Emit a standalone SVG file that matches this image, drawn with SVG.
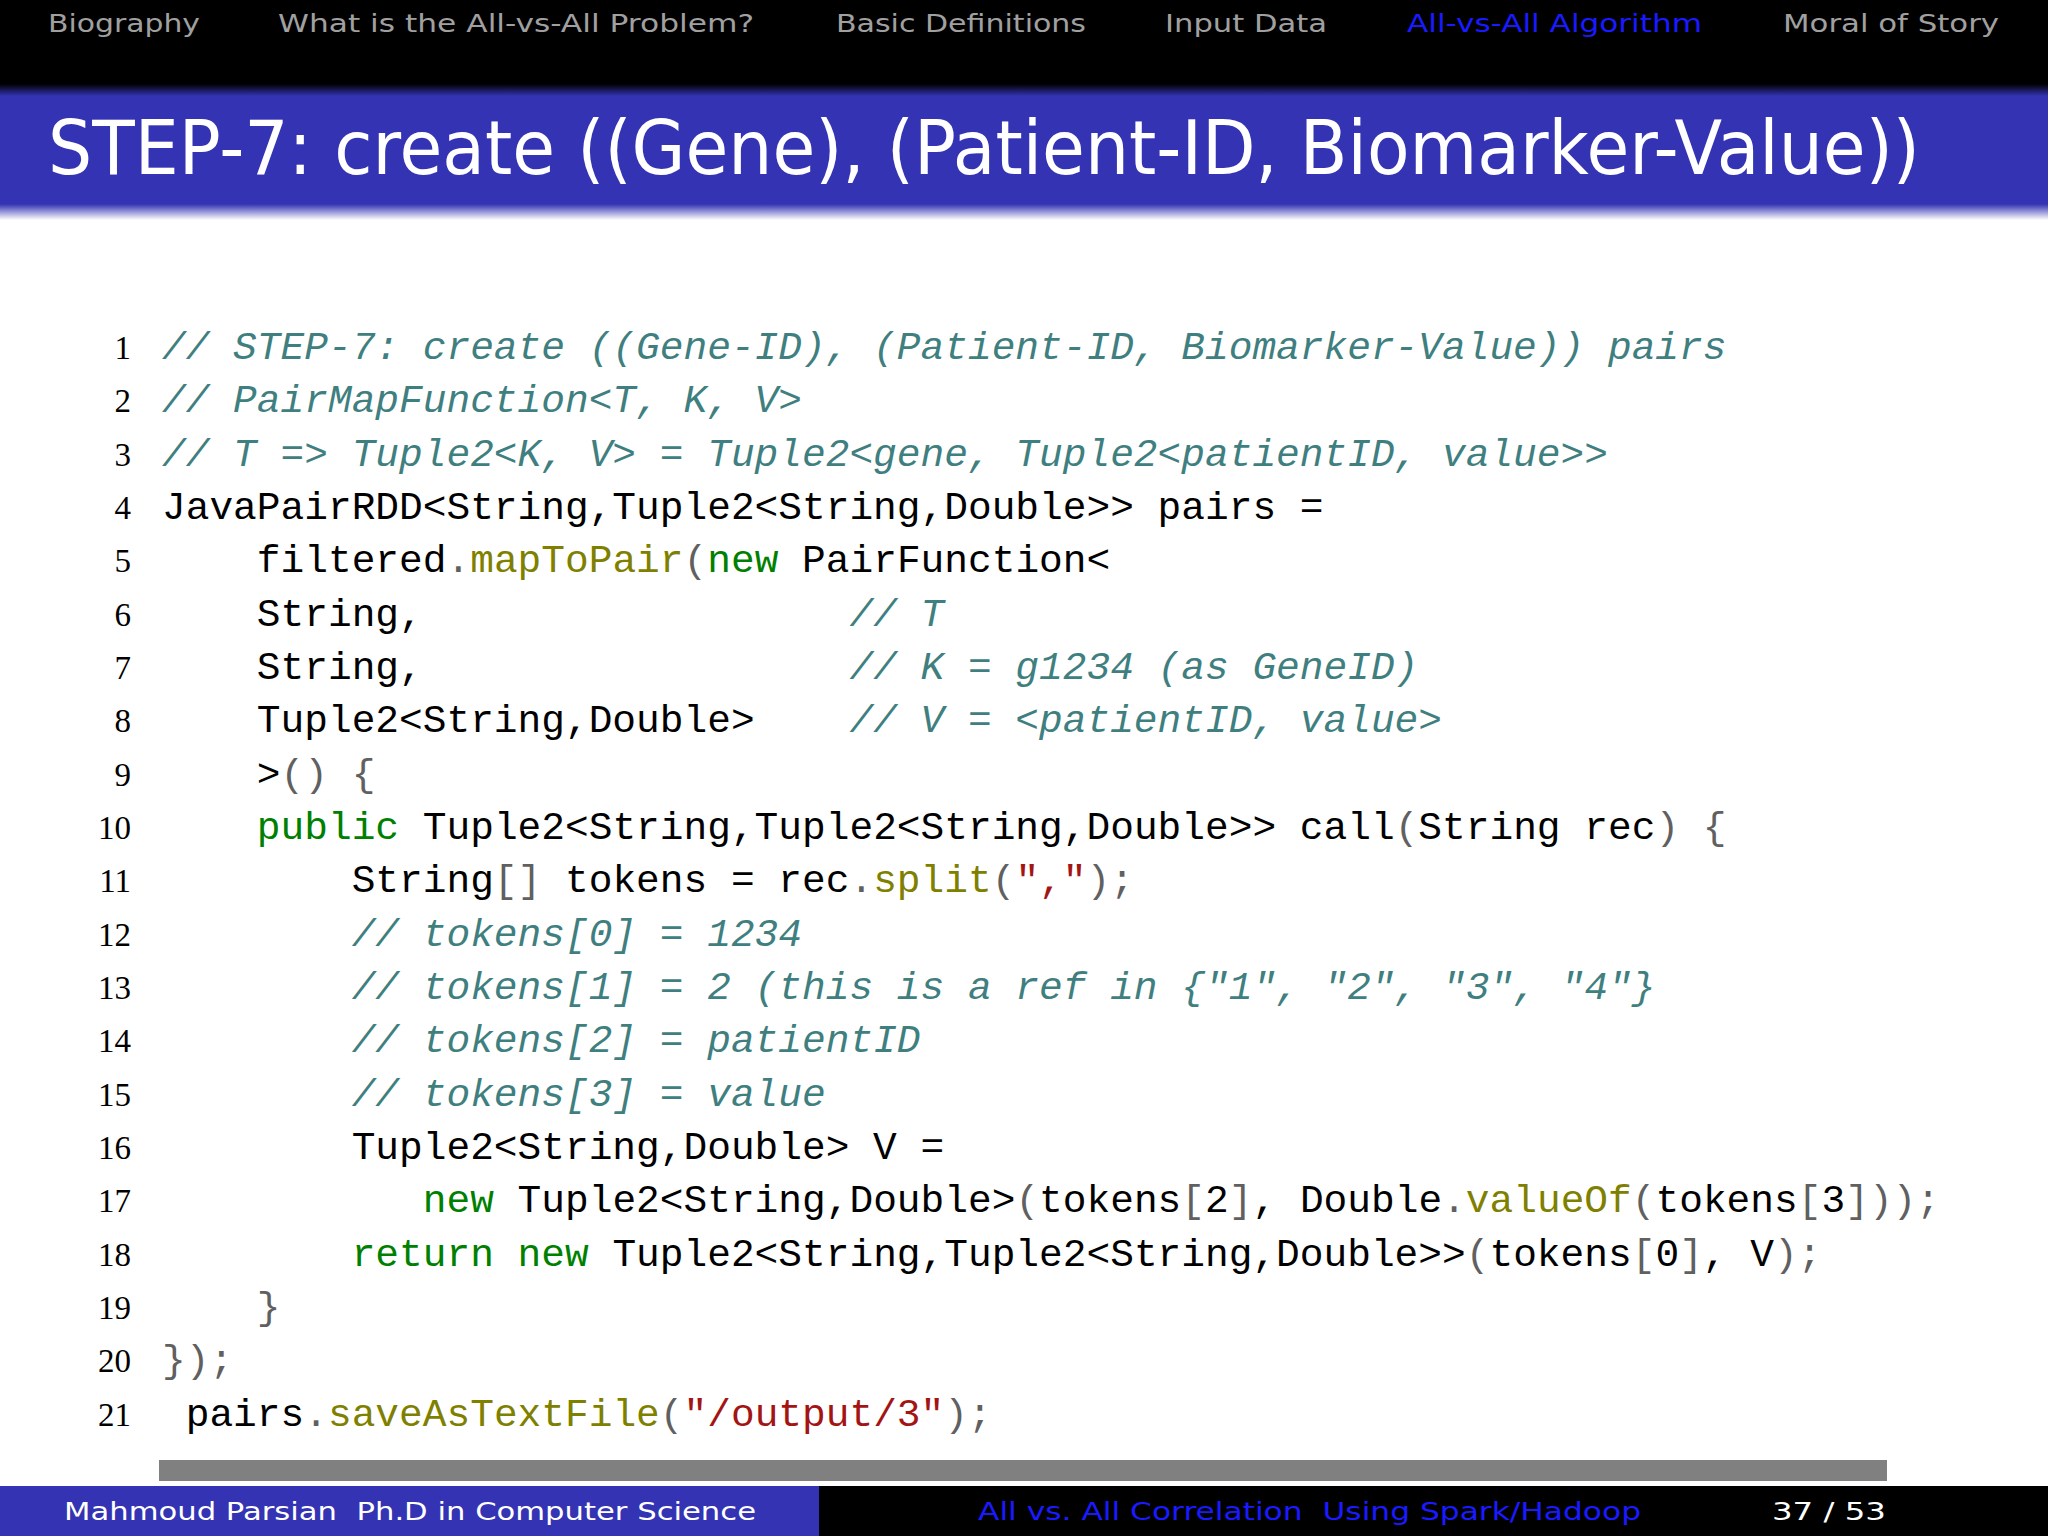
<svg xmlns="http://www.w3.org/2000/svg" width="2048" height="1536" viewBox="0 0 2048 1536">
<defs>
<linearGradient id="sh1" x1="0" y1="0" x2="0" y2="1"><stop offset="0" stop-color="#000"/><stop offset="1" stop-color="#3333b3"/></linearGradient>
<linearGradient id="sh2" x1="0" y1="0" x2="0" y2="1"><stop offset="0" stop-color="#3333b3"/><stop offset="1" stop-color="#fff"/></linearGradient>
<style>
.nav{font-family:"DejaVu Sans",sans-serif;font-size:24px;fill:#a0a0a0}
.cur{fill:#1a1aff}
.title{font-family:"DejaVu Sans",sans-serif;font-size:74px;fill:#fff}
.ln{font-family:"Liberation Serif",serif;font-size:33px;fill:#000;text-anchor:end}
.code text{font-family:"Liberation Mono",monospace;font-size:39.5px;fill:#000;white-space:pre}
.c{font-style:italic;fill:#3f7f7f}
.k{fill:#008000}
.m{fill:#808000}
.s{fill:#a31515}
.p{fill:#606060}
.foot{font-family:"DejaVu Sans",sans-serif;font-size:25px;fill:#fff;white-space:pre}
</style>
</defs>
<rect width="2048" height="1536" fill="#fff"/>
<g id="header">
<rect x="0" y="0" width="2048" height="84" fill="#000"/>
<rect x="0" y="84" width="2048" height="12" fill="url(#sh1)"/>
<rect x="0" y="96" width="2048" height="108" fill="#3333b3"/>
<rect x="0" y="204" width="2048" height="16" fill="url(#sh2)"/>
<text class="nav" x="48" y="32" textLength="152" lengthAdjust="spacingAndGlyphs">Biography</text>
<text class="nav" x="278" y="32" textLength="476" lengthAdjust="spacingAndGlyphs">What is the All-vs-All Problem?</text>
<text class="nav" x="836" y="32" textLength="250" lengthAdjust="spacingAndGlyphs">Basic Definitions</text>
<text class="nav" x="1165" y="32" textLength="162" lengthAdjust="spacingAndGlyphs">Input Data</text>
<text class="nav cur" x="1407" y="32" textLength="295" lengthAdjust="spacingAndGlyphs">All-vs-All Algorithm</text>
<text class="nav" x="1783" y="32" textLength="216" lengthAdjust="spacingAndGlyphs">Moral of Story</text>
<text class="title" x="48" y="174" textLength="1872" lengthAdjust="spacingAndGlyphs">STEP-7: create ((Gene), (Patient-ID, Biomarker-Value))</text>
</g>
<g id="linenumbers">
<text class="ln" x="131" y="359">1</text>
<text class="ln" x="131" y="412">2</text>
<text class="ln" x="131" y="466">3</text>
<text class="ln" x="131" y="519">4</text>
<text class="ln" x="131" y="572">5</text>
<text class="ln" x="131" y="626">6</text>
<text class="ln" x="131" y="679">7</text>
<text class="ln" x="131" y="732">8</text>
<text class="ln" x="131" y="786">9</text>
<text class="ln" x="131" y="839">10</text>
<text class="ln" x="131" y="892">11</text>
<text class="ln" x="131" y="946">12</text>
<text class="ln" x="131" y="999">13</text>
<text class="ln" x="131" y="1052">14</text>
<text class="ln" x="131" y="1106">15</text>
<text class="ln" x="131" y="1159">16</text>
<text class="ln" x="131" y="1212">17</text>
<text class="ln" x="131" y="1266">18</text>
<text class="ln" x="131" y="1319">19</text>
<text class="ln" x="131" y="1372">20</text>
<text class="ln" x="131" y="1426">21</text>
</g>
<g id="code" class="code">
<text xml:space="preserve" x="162" y="359"><tspan class="c">// STEP-7: create ((Gene-ID), (Patient-ID, Biomarker-Value)) pairs</tspan></text>
<text xml:space="preserve" x="162" y="412"><tspan class="c">// PairMapFunction&lt;T, K, V&gt;</tspan></text>
<text xml:space="preserve" x="162" y="466"><tspan class="c">// T =&gt; Tuple2&lt;K, V&gt; = Tuple2&lt;gene, Tuple2&lt;patientID, value&gt;&gt;</tspan></text>
<text xml:space="preserve" x="162" y="519">JavaPairRDD&lt;String,Tuple2&lt;String,Double&gt;&gt; pairs =</text>
<text xml:space="preserve" x="162" y="572">    filtered<tspan class="p">.</tspan><tspan class="m">mapToPair</tspan><tspan class="p">(</tspan><tspan class="k">new</tspan> PairFunction&lt;</text>
<text xml:space="preserve" x="162" y="626">    String,                  <tspan class="c">// T</tspan></text>
<text xml:space="preserve" x="162" y="679">    String,                  <tspan class="c">// K = g1234 (as GeneID)</tspan></text>
<text xml:space="preserve" x="162" y="732">    Tuple2&lt;String,Double&gt;    <tspan class="c">// V = &lt;patientID, value&gt;</tspan></text>
<text xml:space="preserve" x="162" y="786">    &gt;<tspan class="p">() {</tspan></text>
<text xml:space="preserve" x="162" y="839">    <tspan class="k">public</tspan> Tuple2&lt;String,Tuple2&lt;String,Double&gt;&gt; call<tspan class="p">(</tspan>String rec<tspan class="p">) {</tspan></text>
<text xml:space="preserve" x="162" y="892">        String<tspan class="p">[]</tspan> tokens = rec<tspan class="p">.</tspan><tspan class="m">split</tspan><tspan class="p">(</tspan><tspan class="s">","</tspan><tspan class="p">);</tspan></text>
<text xml:space="preserve" x="162" y="946">        <tspan class="c">// tokens[0] = 1234</tspan></text>
<text xml:space="preserve" x="162" y="999">        <tspan class="c">// tokens[1] = 2 (this is a ref in {"1", "2", "3", "4"}</tspan></text>
<text xml:space="preserve" x="162" y="1052">        <tspan class="c">// tokens[2] = patientID</tspan></text>
<text xml:space="preserve" x="162" y="1106">        <tspan class="c">// tokens[3] = value</tspan></text>
<text xml:space="preserve" x="162" y="1159">        Tuple2&lt;String,Double&gt; V =</text>
<text xml:space="preserve" x="162" y="1212">           <tspan class="k">new</tspan> Tuple2&lt;String,Double&gt;<tspan class="p">(</tspan>tokens<tspan class="p">[</tspan>2<tspan class="p">]</tspan>, Double<tspan class="p">.</tspan><tspan class="m">valueOf</tspan><tspan class="p">(</tspan>tokens<tspan class="p">[</tspan>3<tspan class="p">]));</tspan></text>
<text xml:space="preserve" x="162" y="1266">        <tspan class="k">return new</tspan> Tuple2&lt;String,Tuple2&lt;String,Double&gt;&gt;<tspan class="p">(</tspan>tokens<tspan class="p">[</tspan>0<tspan class="p">]</tspan>, V<tspan class="p">);</tspan></text>
<text xml:space="preserve" x="162" y="1319">    <tspan class="p">}</tspan></text>
<text xml:space="preserve" x="162" y="1372"><tspan class="p">});</tspan></text>
<text xml:space="preserve" x="162" y="1426"> pairs<tspan class="p">.</tspan><tspan class="m">saveAsTextFile</tspan><tspan class="p">(</tspan><tspan class="s">"/output/3"</tspan><tspan class="p">);</tspan></text>
</g>
<g id="scrollbar"><rect x="159" y="1460" width="1728" height="21" fill="#808080"/></g>
<g id="footer">
<rect x="0" y="1486" width="819" height="50" fill="#3333b3"/>
<rect x="819" y="1486" width="1229" height="50" fill="#000"/>
<text class="foot" xml:space="preserve" x="64" y="1520" textLength="692" lengthAdjust="spacingAndGlyphs">Mahmoud Parsian  Ph.D in Computer Science</text>
<text class="foot" xml:space="preserve" x="978" y="1520" textLength="663" lengthAdjust="spacingAndGlyphs" style="fill:#1a1aff">All vs. All Correlation  Using Spark/Hadoop</text>
<text class="foot" x="1772" y="1520" textLength="114" lengthAdjust="spacingAndGlyphs">37 / 53</text>
</g>
</svg>
